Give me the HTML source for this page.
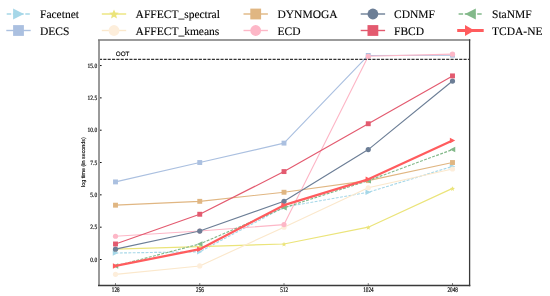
<!DOCTYPE html><html><head><meta charset="utf-8"><style>html,body{margin:0;padding:0;background:#fff;width:550px;height:296px;overflow:hidden}svg{display:block;will-change:transform;text-rendering:geometricPrecision}</style></head><body>
<svg width="550" height="296" viewBox="0 0 550 296">
<rect width="550" height="296" fill="#fff"/>
<polyline points="115.50,253.03 199.75,251.74 284.00,207.13 368.25,192.26 452.50,166.40" fill="none" stroke="#a6d7e8" stroke-width="1.15" stroke-dasharray="2.9 1.4" stroke-linejoin="round"/>
<path d="M112.75,250.28 L118.25,253.03 L112.75,255.78Z" fill="#a6d7e8"/>
<path d="M197.00,248.99 L202.50,251.74 L197.00,254.49Z" fill="#a6d7e8"/>
<path d="M281.25,204.38 L286.75,207.13 L281.25,209.88Z" fill="#a6d7e8"/>
<path d="M365.50,189.51 L371.00,192.26 L365.50,195.01Z" fill="#a6d7e8"/>
<path d="M449.75,163.65 L455.25,166.40 L449.75,169.15Z" fill="#a6d7e8"/>
<polyline points="115.50,181.92 199.75,162.53 284.00,143.13 368.25,55.46 452.50,55.21" fill="none" stroke="#abc0e0" stroke-width="1.15" stroke-linejoin="round"/>
<rect x="113.05" y="179.47" width="4.90" height="4.90" fill="#abc0e0"/>
<rect x="197.30" y="160.08" width="4.90" height="4.90" fill="#abc0e0"/>
<rect x="281.55" y="140.68" width="4.90" height="4.90" fill="#abc0e0"/>
<rect x="365.80" y="53.01" width="4.90" height="4.90" fill="#abc0e0"/>
<rect x="450.05" y="52.76" width="4.90" height="4.90" fill="#abc0e0"/>
<polyline points="115.50,249.16 199.75,246.57 284.00,243.98 368.25,227.18 452.50,188.38" fill="none" stroke="#ebe47a" stroke-width="1.15" stroke-linejoin="round"/>
<polygon points="115.50,246.96 116.19,248.61 117.97,248.75 116.61,249.92 117.03,251.66 115.50,250.73 113.97,251.66 114.39,249.92 113.03,248.75 114.81,248.61" fill="#ebe47a"/>
<polygon points="199.75,244.37 200.44,246.02 202.22,246.17 200.86,247.33 201.28,249.07 199.75,248.14 198.22,249.07 198.64,247.33 197.28,246.17 199.06,246.02" fill="#ebe47a"/>
<polygon points="284.00,241.78 284.69,243.44 286.47,243.58 285.11,244.75 285.53,246.49 284.00,245.55 282.47,246.49 282.89,244.75 281.53,243.58 283.31,243.44" fill="#ebe47a"/>
<polygon points="368.25,224.98 368.94,226.63 370.72,226.77 369.36,227.94 369.78,229.68 368.25,228.75 366.72,229.68 367.14,227.94 365.78,226.77 367.56,226.63" fill="#ebe47a"/>
<polygon points="452.50,186.19 453.19,187.84 454.97,187.98 453.61,189.15 454.03,190.89 452.50,189.95 450.97,190.89 451.39,189.15 450.03,187.98 451.81,187.84" fill="#ebe47a"/>
<polyline points="115.50,274.37 199.75,265.96 284.00,227.18 368.25,187.74 452.50,168.99" fill="none" stroke="#fbe8cc" stroke-width="1.15" stroke-linejoin="round"/>
<circle cx="115.50" cy="274.37" r="2.60" fill="#fdeedb"/>
<circle cx="199.75" cy="265.96" r="2.60" fill="#fdeedb"/>
<circle cx="284.00" cy="227.18" r="2.60" fill="#fdeedb"/>
<circle cx="368.25" cy="187.74" r="2.60" fill="#fdeedb"/>
<circle cx="452.50" cy="168.99" r="2.60" fill="#fdeedb"/>
<polyline points="115.50,205.19 199.75,201.31 284.00,192.26 368.25,180.63 452.50,162.53" fill="none" stroke="#e0b682" stroke-width="1.15" stroke-linejoin="round"/>
<rect x="113.05" y="202.74" width="4.90" height="4.90" fill="#e0b682"/>
<rect x="197.30" y="198.87" width="4.90" height="4.90" fill="#e0b682"/>
<rect x="281.55" y="189.81" width="4.90" height="4.90" fill="#e0b682"/>
<rect x="365.80" y="178.18" width="4.90" height="4.90" fill="#e0b682"/>
<rect x="450.05" y="160.08" width="4.90" height="4.90" fill="#e0b682"/>
<polyline points="115.50,236.23 199.75,231.05 284.00,224.59 368.25,56.24 452.50,54.17" fill="none" stroke="#fdb7c7" stroke-width="1.15" stroke-linejoin="round"/>
<circle cx="115.50" cy="236.23" r="2.60" fill="#fdb7c7"/>
<circle cx="199.75" cy="231.05" r="2.60" fill="#fdb7c7"/>
<circle cx="284.00" cy="224.59" r="2.60" fill="#fdb7c7"/>
<circle cx="368.25" cy="56.24" r="2.60" fill="#fdb7c7"/>
<circle cx="452.50" cy="54.17" r="2.60" fill="#fdb7c7"/>
<polyline points="115.50,249.16 199.75,231.05 284.00,201.31 368.25,149.59 452.50,81.07" fill="none" stroke="#6c7e96" stroke-width="1.15" stroke-linejoin="round"/>
<circle cx="115.50" cy="249.16" r="2.60" fill="#6c7e96"/>
<circle cx="199.75" cy="231.05" r="2.60" fill="#6c7e96"/>
<circle cx="284.00" cy="201.31" r="2.60" fill="#6c7e96"/>
<circle cx="368.25" cy="149.59" r="2.60" fill="#6c7e96"/>
<circle cx="452.50" cy="81.07" r="2.60" fill="#6c7e96"/>
<polyline points="115.50,243.98 199.75,214.25 284.00,171.58 368.25,123.74 452.50,75.89" fill="none" stroke="#e35a6f" stroke-width="1.15" stroke-linejoin="round"/>
<rect x="113.05" y="241.53" width="4.90" height="4.90" fill="#e35a6f"/>
<rect x="197.30" y="211.80" width="4.90" height="4.90" fill="#e35a6f"/>
<rect x="281.55" y="169.13" width="4.90" height="4.90" fill="#e35a6f"/>
<rect x="365.80" y="121.29" width="4.90" height="4.90" fill="#e35a6f"/>
<rect x="450.05" y="73.44" width="4.90" height="4.90" fill="#e35a6f"/>
<polyline points="115.50,265.96 199.75,243.98 284.00,207.78 368.25,180.63 452.50,149.59" fill="none" stroke="#83b98a" stroke-width="1.15" stroke-dasharray="2.9 1.4" stroke-linejoin="round"/>
<path d="M118.25,263.21 L112.75,265.96 L118.25,268.71Z" fill="#83b98a"/>
<path d="M202.50,241.23 L197.00,243.98 L202.50,246.73Z" fill="#83b98a"/>
<path d="M286.75,205.03 L281.25,207.78 L286.75,210.53Z" fill="#83b98a"/>
<path d="M371.00,177.88 L365.50,180.63 L371.00,183.38Z" fill="#83b98a"/>
<path d="M455.25,146.84 L449.75,149.59 L455.25,152.34Z" fill="#83b98a"/>
<polyline points="115.50,265.96 199.75,249.16 284.00,205.19 368.25,179.33 452.50,140.54" fill="none" stroke="#ff5c5e" stroke-width="2.25" stroke-linejoin="round"/>
<path d="M112.90,263.21 L118.20,265.96 L112.90,268.71Z" fill="#ff5c5e"/>
<path d="M197.15,246.41 L202.45,249.16 L197.15,251.91Z" fill="#ff5c5e"/>
<path d="M281.40,202.44 L286.70,205.19 L281.40,207.94Z" fill="#ff5c5e"/>
<path d="M365.65,176.58 L370.95,179.33 L365.65,182.08Z" fill="#ff5c5e"/>
<path d="M449.90,137.79 L455.20,140.54 L449.90,143.29Z" fill="#ff5c5e"/>
<line x1="99" y1="59.3" x2="469.5" y2="59.3" stroke="#000" stroke-width="1" stroke-dasharray="3.1 1.24" stroke-dashoffset="0"/>
<text x="115.8" y="55.8" font-family="Liberation Sans, sans-serif" font-size="6.3" fill="#000" stroke="#000" stroke-width="0.15">OOT</text>
<line x1="99" y1="40" x2="99" y2="285.4" stroke="#9a9a9a" stroke-width="2"/>
<line x1="98" y1="40" x2="470.3" y2="40" stroke="#7a7a7a" stroke-width="1.5"/>
<line x1="469.6" y1="39.3" x2="469.6" y2="286.2" stroke="#3a3a3a" stroke-width="1.3"/>
<line x1="98" y1="285.5" x2="470.3" y2="285.5" stroke="#3a3a3a" stroke-width="1.3"/>
<line x1="100" y1="65.55" x2="101.6" y2="65.55" stroke="#111" stroke-width="1"/>
<text transform="translate(97.1,67.65) scale(0.88,1.06)" text-anchor="end" font-family="Liberation Serif, serif" font-size="6.2" fill="#111" stroke="#111" stroke-width="0.2">15.0</text>
<line x1="100" y1="97.88" x2="101.6" y2="97.88" stroke="#111" stroke-width="1"/>
<text transform="translate(97.1,99.97) scale(0.88,1.06)" text-anchor="end" font-family="Liberation Serif, serif" font-size="6.2" fill="#111" stroke="#111" stroke-width="0.2">12.5</text>
<line x1="100" y1="130.20" x2="101.6" y2="130.20" stroke="#111" stroke-width="1"/>
<text transform="translate(97.1,132.30) scale(0.88,1.06)" text-anchor="end" font-family="Liberation Serif, serif" font-size="6.2" fill="#111" stroke="#111" stroke-width="0.2">10.0</text>
<line x1="100" y1="162.53" x2="101.6" y2="162.53" stroke="#111" stroke-width="1"/>
<text transform="translate(97.1,164.62) scale(0.88,1.06)" text-anchor="end" font-family="Liberation Serif, serif" font-size="6.2" fill="#111" stroke="#111" stroke-width="0.2">7.5</text>
<line x1="100" y1="194.85" x2="101.6" y2="194.85" stroke="#111" stroke-width="1"/>
<text transform="translate(97.1,196.95) scale(0.88,1.06)" text-anchor="end" font-family="Liberation Serif, serif" font-size="6.2" fill="#111" stroke="#111" stroke-width="0.2">5.0</text>
<line x1="100" y1="227.18" x2="101.6" y2="227.18" stroke="#111" stroke-width="1"/>
<text transform="translate(97.1,229.28) scale(0.88,1.06)" text-anchor="end" font-family="Liberation Serif, serif" font-size="6.2" fill="#111" stroke="#111" stroke-width="0.2">2.5</text>
<line x1="100" y1="259.50" x2="101.6" y2="259.50" stroke="#111" stroke-width="1"/>
<text transform="translate(97.1,261.60) scale(0.88,1.06)" text-anchor="end" font-family="Liberation Serif, serif" font-size="6.2" fill="#111" stroke="#111" stroke-width="0.2">0.0</text>
<line x1="115.50" y1="284.8" x2="115.50" y2="283.3" stroke="#333" stroke-width="0.8"/>
<text transform="translate(115.70,291.7) scale(0.82,1.12)" text-anchor="middle" font-family="Liberation Serif, serif" font-size="6.3" fill="#111" stroke="#111" stroke-width="0.2">128</text>
<line x1="199.75" y1="284.8" x2="199.75" y2="283.3" stroke="#333" stroke-width="0.8"/>
<text transform="translate(199.95,291.7) scale(0.82,1.12)" text-anchor="middle" font-family="Liberation Serif, serif" font-size="6.3" fill="#111" stroke="#111" stroke-width="0.2">256</text>
<line x1="284.00" y1="284.8" x2="284.00" y2="283.3" stroke="#333" stroke-width="0.8"/>
<text transform="translate(284.20,291.7) scale(0.82,1.12)" text-anchor="middle" font-family="Liberation Serif, serif" font-size="6.3" fill="#111" stroke="#111" stroke-width="0.2">512</text>
<line x1="368.25" y1="284.8" x2="368.25" y2="283.3" stroke="#333" stroke-width="0.8"/>
<text transform="translate(368.45,291.7) scale(0.82,1.12)" text-anchor="middle" font-family="Liberation Serif, serif" font-size="6.3" fill="#111" stroke="#111" stroke-width="0.2">1024</text>
<line x1="452.50" y1="284.8" x2="452.50" y2="283.3" stroke="#333" stroke-width="0.8"/>
<text transform="translate(452.70,291.7) scale(0.82,1.12)" text-anchor="middle" font-family="Liberation Serif, serif" font-size="6.3" fill="#111" stroke="#111" stroke-width="0.2">2048</text>
<text transform="translate(84.7,162.0) rotate(-90)" text-anchor="middle" font-family="Liberation Sans, sans-serif" font-size="5.4" fill="#111" stroke="#111" stroke-width="0.15">log time (in seconds)</text>
<line x1="6.70" y1="14.00" x2="30.30" y2="14.00" stroke="#a6d7e8" stroke-width="1.4" stroke-dasharray="4.5 1.7"/>
<path d="M13.10,8.60 L23.90,14.00 L13.10,19.40Z" fill="#a6d7e8"/>
<text x="40.00" y="17.90" font-family="Liberation Serif, serif" font-size="11.5" fill="#000" stroke="#000" stroke-width="0.12">Facetnet</text>
<line x1="6.30" y1="30.50" x2="30.70" y2="30.50" stroke="#abc0e0" stroke-width="1.4"/>
<rect x="13.10" y="25.10" width="10.80" height="10.80" fill="#abc0e0"/>
<text x="40.00" y="34.50" font-family="Liberation Serif, serif" font-size="11.5" fill="#000" stroke="#000" stroke-width="0.12">DECS</text>
<line x1="101.80" y1="14.00" x2="126.20" y2="14.00" stroke="#ebe47a" stroke-width="1.4"/>
<polygon points="114.00,9.40 115.32,12.58 118.76,12.85 116.14,15.10 116.94,18.45 114.00,16.65 111.06,18.45 111.86,15.10 109.24,12.85 112.68,12.58" fill="#ebe47a"/>
<text x="135.60" y="17.90" font-family="Liberation Serif, serif" font-size="11.5" fill="#000" stroke="#000" stroke-width="0.12">AFFECT_spectral</text>
<line x1="101.80" y1="30.50" x2="126.20" y2="30.50" stroke="#fbe8cc" stroke-width="1.4"/>
<circle cx="114.00" cy="30.50" r="5.40" fill="#fdeedb"/>
<text x="135.60" y="34.50" font-family="Liberation Serif, serif" font-size="11.5" fill="#000" stroke="#000" stroke-width="0.12">AFFECT_kmeans</text>
<line x1="243.50" y1="14.00" x2="267.90" y2="14.00" stroke="#e0b682" stroke-width="1.4"/>
<rect x="250.30" y="8.60" width="10.80" height="10.80" fill="#e0b682"/>
<text x="277.50" y="17.90" font-family="Liberation Serif, serif" font-size="11.5" fill="#000" stroke="#000" stroke-width="0.12">DYNMOGA</text>
<line x1="243.50" y1="30.50" x2="267.90" y2="30.50" stroke="#fdb7c7" stroke-width="1.4"/>
<circle cx="255.70" cy="30.50" r="5.40" fill="#fdb7c7"/>
<text x="277.50" y="34.50" font-family="Liberation Serif, serif" font-size="11.5" fill="#000" stroke="#000" stroke-width="0.12">ECD</text>
<line x1="360.70" y1="14.00" x2="385.10" y2="14.00" stroke="#6c7e96" stroke-width="1.4"/>
<circle cx="372.90" cy="14.00" r="5.40" fill="#6c7e96"/>
<text x="394.00" y="17.90" font-family="Liberation Serif, serif" font-size="11.5" fill="#000" stroke="#000" stroke-width="0.12">CDNMF</text>
<line x1="360.70" y1="30.50" x2="385.10" y2="30.50" stroke="#e35a6f" stroke-width="1.4"/>
<rect x="367.50" y="25.10" width="10.80" height="10.80" fill="#e35a6f"/>
<text x="394.00" y="34.50" font-family="Liberation Serif, serif" font-size="11.5" fill="#000" stroke="#000" stroke-width="0.12">FBCD</text>
<line x1="458.60" y1="14.00" x2="482.20" y2="14.00" stroke="#83b98a" stroke-width="1.4" stroke-dasharray="4.5 1.7"/>
<path d="M475.80,8.60 L465.00,14.00 L475.80,19.40Z" fill="#83b98a"/>
<text x="492.00" y="17.90" font-family="Liberation Serif, serif" font-size="11.5" fill="#000" stroke="#000" stroke-width="0.12">StaNMF</text>
<line x1="457.20" y1="30.50" x2="483.70" y2="30.50" stroke="#ff5c5e" stroke-width="3.0"/>
<path d="M465.00,25.10 L474.40,30.50 L465.00,35.90Z" fill="#ff5c5e"/>
<text x="492.00" y="34.50" font-family="Liberation Serif, serif" font-size="11.5" fill="#000" stroke="#000" stroke-width="0.12">TCDA-NE</text>
</svg></body></html>
